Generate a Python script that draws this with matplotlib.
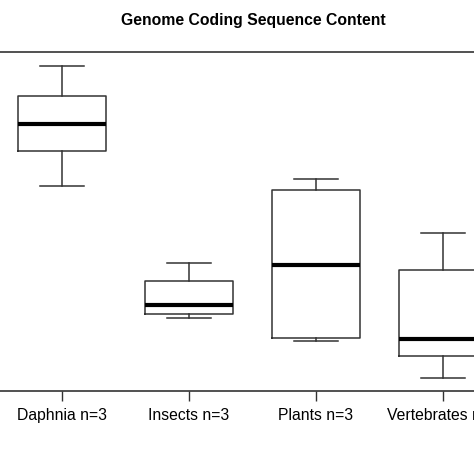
import matplotlib
matplotlib.use("Agg")
import matplotlib.pyplot as plt

categories = ["Daphnia n=3", "Insects n=3", "Plants n=3", "Vertebrates n=3"]
whis_hi = [32.5, 12.7, 21.2, 15.7]
q3 = [29.5, 10.9, 20.1, 12.0]
median = [26.7, 8.5, 12.5, 5.1]
q1 = [24.0, 7.6, 5.2, 3.4]
whis_lo = [20.5, 7.2, 4.9, 1.2]

plt.rcParams['font.family'] = ['Liberation Sans', 'DejaVu Sans']

fig = plt.figure(figsize=(4.74, 4.74), dpi=100)
# axes extends beyond the figure on the left and right (cropped R plot)
ax = fig.add_axes([-21.8 / 474, 1 - 391 / 474, 548.6 / 474, 339 / 474])

stats = []
for i, name in enumerate(categories):
    stats.append(dict(label=name, whislo=whis_lo[i], q1=q1[i], med=median[i],
                      q3=q3[i], whishi=whis_hi[i], fliers=[]))

pos = list(range(1, len(categories) + 1))
ax.bxp(stats, positions=pos, widths=0.7, capwidths=0.35, showfliers=False,
       boxprops=dict(color='#333333', linewidth=1.1),
       whiskerprops=dict(color='#333333', linewidth=1.1, linestyle='-'),
       capprops=dict(color='#333333', linewidth=1.1),
       medianprops=dict(color='black', linewidth=3))

lo, hi = min(whis_lo), max(whis_hi)
ext = 0.04 * (hi - lo)
ax.set_ylim(lo - ext, hi + ext + 0.1)
ax.set_xlim(0.5 - 0.16, len(categories) + 0.5 + 0.16)
ax.set_yticks([])
ax.set_xticks(pos)
ax.set_xticklabels(categories, fontsize=11.3)
ax.tick_params(axis='x', length=7, width=1, color='#333333', pad=5)
for s in ax.spines.values():
    s.set_linewidth(1.2)
    s.set_color('#333333')

fig.text(253 / 474, 1 - 20 / 474, "Genome Coding Sequence Content",
         ha='center', va='center', fontsize=11.3, fontweight='bold')

fig.savefig("out.png", dpi=100)
